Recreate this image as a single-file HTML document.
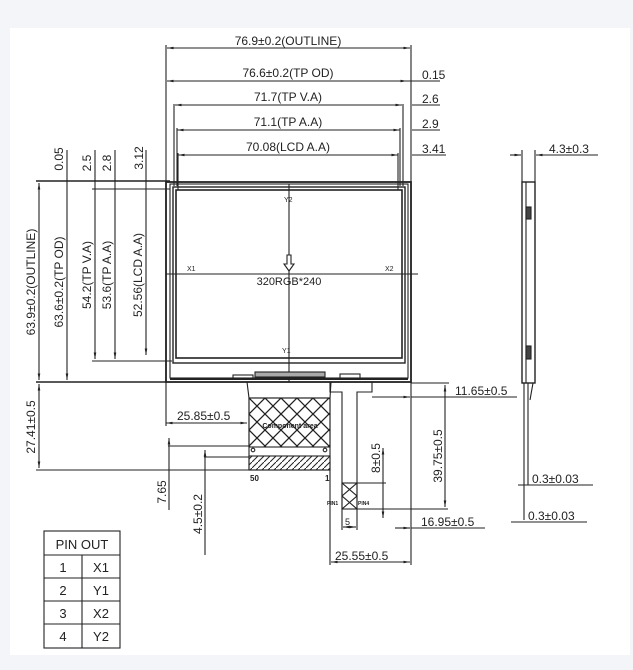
<!DOCTYPE html>
<html><head><meta charset="utf-8"><style>
html,body{margin:0;padding:0;background:#f4f5f8;}
svg{display:block;}
text{font-family:"Liberation Sans",sans-serif;fill:#222;}
</style></head><body>
<svg width="633" height="670" viewBox="0 0 633 670" xmlns="http://www.w3.org/2000/svg">
<defs>
<pattern id="xh" x="249" y="398" width="16" height="16" patternUnits="userSpaceOnUse"><path d="M0 0L16 16M16 0L0 16" stroke="#222" stroke-width="1.3"/></pattern>
<pattern id="xh2" x="342" y="483" width="15" height="13" patternUnits="userSpaceOnUse"><path d="M0 0L15 13M15 0L0 13" stroke="#222" stroke-width="1.1"/></pattern>
<pattern id="dh" width="6" height="6" patternUnits="userSpaceOnUse"><path d="M0 6L6 0" stroke="#222" stroke-width="1"/></pattern>
<marker id="a" viewBox="0 0 10 10" refX="10" refY="5" markerWidth="6" markerHeight="6" orient="auto-start-reverse"><path d="M0 3L10 5L0 7z" fill="#222"/></marker>
</defs>
<rect x="10" y="28" width="620" height="627" fill="#fff"/>
<g stroke="#222" stroke-width="1.1" fill="none">
<line x1="166" y1="45" x2="166" y2="382"/>
<line x1="411" y1="45" x2="411" y2="565"/>
<line x1="167" y1="48" x2="410" y2="48" marker-start="url(#a)" marker-end="url(#a)"/>
<line x1="167" y1="81" x2="407" y2="81" marker-start="url(#a)" marker-end="url(#a)"/>
<line x1="407" y1="81" x2="440" y2="81"/>
<line x1="175" y1="105" x2="402" y2="105" marker-start="url(#a)" marker-end="url(#a)"/>
<line x1="412" y1="105" x2="440" y2="105"/>
<line x1="177" y1="130" x2="400" y2="130" marker-start="url(#a)" marker-end="url(#a)"/>
<line x1="412" y1="130" x2="440" y2="130"/>
<line x1="178" y1="155" x2="398" y2="155" marker-start="url(#a)" marker-end="url(#a)"/>
<line x1="412" y1="155" x2="446" y2="155"/>
<line x1="174" y1="104" x2="174" y2="186"/><line x1="403" y1="104" x2="403" y2="186"/>
<line x1="177" y1="128" x2="177" y2="186"/><line x1="400" y1="128" x2="400" y2="186"/>
<line x1="178" y1="153" x2="178" y2="190"/><line x1="398" y1="153" x2="398" y2="190"/>
<line x1="36" y1="181" x2="170" y2="181" stroke-width="1.6"/>
<line x1="92" y1="189" x2="170" y2="189"/>
<line x1="36" y1="382" x2="166" y2="382" stroke-width="1.6"/>
<line x1="92" y1="361" x2="172" y2="361"/>
<line x1="39" y1="183" x2="39" y2="380" marker-start="url(#a)" marker-end="url(#a)"/>
<line x1="67" y1="150" x2="67" y2="380" marker-end="url(#a)"/>
<line x1="95" y1="150" x2="95" y2="359" marker-end="url(#a)"/>
<line x1="115" y1="150" x2="115" y2="359" marker-end="url(#a)"/>
<line x1="146" y1="150" x2="146" y2="355" marker-end="url(#a)"/>
<line x1="39" y1="384" x2="39" y2="468" marker-start="url(#a)" marker-end="url(#a)"/>
<line x1="36" y1="470" x2="330" y2="470"/>
<rect x="166" y="182" width="245" height="200" stroke-width="1.8"/>
<rect x="170" y="184" width="238" height="194"/>
<rect x="173" y="187" width="232" height="176" stroke-width="1.4"/>
<rect x="176" y="190" width="226" height="168" stroke-width="1.6"/>
<line x1="289" y1="184" x2="289" y2="382"/>
<line x1="166" y1="274" x2="418" y2="274"/>
<path d="M287 255h4v9h3l-5 7-5-7h3z" fill="#fff"/>
<line x1="170" y1="379" x2="408" y2="379" stroke-width="2"/>
<rect x="255" y="372" width="70" height="5" fill="#aaa"/>
<rect x="233" y="375" width="20" height="4"/><rect x="340" y="374" width="20" height="5"/>
<path d="M247 382L249 398M331 382L330 398"/>
<rect x="249" y="398" width="81" height="49" fill="url(#xh)"/>
<rect x="249" y="398" width="81" height="72"/>
<rect x="249" y="456" width="81" height="14" fill="url(#dh)"/>
<circle cx="253" cy="450" r="1.8"/><circle cx="325" cy="450" r="1.8"/>
<path d="M330 382V392H342V509H357V392H372V382"/>
<rect x="342" y="483" width="15" height="26" fill="url(#xh2)"/>
<line x1="342" y1="509" x2="342" y2="530"/><line x1="357" y1="509" x2="357" y2="530"/>
<line x1="343" y1="527" x2="356" y2="527" marker-start="url(#a)" marker-end="url(#a)"/>
<line x1="330" y1="470" x2="330" y2="565"/>
<line x1="331" y1="562" x2="410" y2="562" marker-start="url(#a)" marker-end="url(#a)"/>
<line x1="395" y1="528" x2="410" y2="528" marker-end="url(#a)"/><line x1="411" y1="528" x2="485" y2="528"/>
<line x1="357" y1="509" x2="448" y2="509"/>
<line x1="357" y1="483" x2="386" y2="483"/>
<line x1="383" y1="448" x2="383" y2="518" marker-start="url(#a)" marker-end="url(#a)"/>
<line x1="411" y1="383" x2="449" y2="383"/>
<line x1="445" y1="385" x2="445" y2="507" marker-start="url(#a)" marker-end="url(#a)"/>
<line x1="372" y1="397" x2="410" y2="397" marker-end="url(#a)"/><line x1="411" y1="397" x2="517" y2="397"/>
<line x1="166" y1="423" x2="247" y2="423" marker-start="url(#a)" marker-end="url(#a)"/>
<line x1="166" y1="382" x2="166" y2="426"/>
<line x1="168" y1="446" x2="249" y2="446"/>
<line x1="204" y1="457" x2="249" y2="457"/>
<line x1="169" y1="438" x2="169" y2="510" marker-start="url(#a)"/>
<line x1="205" y1="450" x2="205" y2="555" marker-start="url(#a)"/>
<rect x="522" y="182" width="13" height="201" stroke-width="1.4"/>
<line x1="526" y1="182" x2="526" y2="383"/>
<rect x="526" y="207" width="5" height="12" fill="#444"/>
<rect x="526" y="346" width="5" height="13" fill="#444"/>
<path d="M524 383V520M528 383V485M533 383L530 400" />
<line x1="522" y1="150" x2="522" y2="182"/><line x1="535" y1="150" x2="535" y2="182"/>
<line x1="510" y1="155" x2="521" y2="155" marker-end="url(#a)"/>
<line x1="536" y1="155" x2="598" y2="155" marker-start="url(#a)"/>
<line x1="518" y1="485" x2="593" y2="485"/>
<line x1="511" y1="522" x2="587" y2="522"/>
<rect x="44" y="531" width="76" height="117"/>
<line x1="44" y1="555" x2="120" y2="555"/><line x1="44" y1="578" x2="120" y2="578"/>
<line x1="44" y1="601" x2="120" y2="601"/><line x1="44" y1="624" x2="120" y2="624"/>
<line x1="82" y1="555" x2="82" y2="648"/>
</g>
<g font-size="12">
<text x="288" y="45" text-anchor="middle">76.9±0.2(OUTLINE)</text>
<text x="288" y="77" text-anchor="middle">76.6±0.2(TP  OD)</text>
<text x="288" y="101" text-anchor="middle">71.7(TP  V.A)</text>
<text x="288" y="126" text-anchor="middle">71.1(TP  A.A)</text>
<text x="288" y="151" text-anchor="middle">70.08(LCD  A.A)</text>
<text x="422" y="79">0.15</text><text x="422" y="103">2.6</text><text x="422" y="128">2.9</text><text x="422" y="153">3.41</text>
<text x="549" y="153">4.3±0.3</text>
<text x="455" y="395">11.65±0.5</text>
<text x="421" y="526">16.95±0.5</text>
<text x="335" y="560">25.55±0.5</text>
<text x="177" y="420">25.85±0.5</text>
<text x="532" y="483">0.3±0.03</text>
<text x="528" y="520">0.3±0.03</text>
<text x="345" y="525" font-size="9">5</text>
<g text-anchor="middle">
<text transform="translate(35,282) rotate(-90)">63.9±0.2(OUTLINE)</text>
<text transform="translate(63,282) rotate(-90)">63.6±0.2(TP  OD)</text>
<text transform="translate(91,275) rotate(-90)">54.2(TP  V.A)</text>
<text transform="translate(111,275) rotate(-90)">53.6(TP  A.A)</text>
<text transform="translate(142,275) rotate(-90)">52.56(LCD  A.A)</text>
<text transform="translate(63,159) rotate(-90)">0.05</text>
<text transform="translate(91,163) rotate(-90)">2.5</text>
<text transform="translate(111,163) rotate(-90)">2.8</text>
<text transform="translate(143,158) rotate(-90)">3.12</text>
<text transform="translate(35,427) rotate(-90)">27.41±0.5</text>
<text transform="translate(166,492) rotate(-90)">7.65</text>
<text transform="translate(202,514) rotate(-90)">4.5±0.2</text>
<text transform="translate(380,458) rotate(-90)">8±0.5</text>
<text transform="translate(442,456) rotate(-90)">39.75±0.5</text>
</g>
<text x="289" y="285" text-anchor="middle" font-family="Liberation Mono" font-size="11">320RGB*240</text>
<text x="290" y="428" text-anchor="middle" font-family="Liberation Mono" font-size="7" font-weight="bold">Component area</text>
<text x="250" y="481" font-size="8" font-weight="bold">50</text>
<text x="325" y="481" font-size="8" font-weight="bold">1</text>
<text x="327" y="505" font-size="5" font-weight="bold">PIN1</text>
<text x="358" y="505" font-size="5" font-weight="bold">PIN4</text>
<g font-family="Liberation Serif" font-size="7">
<text x="284" y="202" fill="#c80">Y2</text><text x="187" y="271" fill="#24a">X1</text>
<text x="385" y="271" fill="#24a">X2</text><text x="282" y="353" fill="#24a">Y1</text>
</g>
<g font-size="13" text-anchor="middle">
<text x="82" y="549">PIN  OUT</text>
<text x="63" y="572">1</text><text x="101" y="572">X1</text>
<text x="63" y="595">2</text><text x="101" y="595">Y1</text>
<text x="63" y="618">3</text><text x="101" y="618">X2</text>
<text x="63" y="641">4</text><text x="101" y="641">Y2</text>
</g>
</g>
</svg>
</body></html>
